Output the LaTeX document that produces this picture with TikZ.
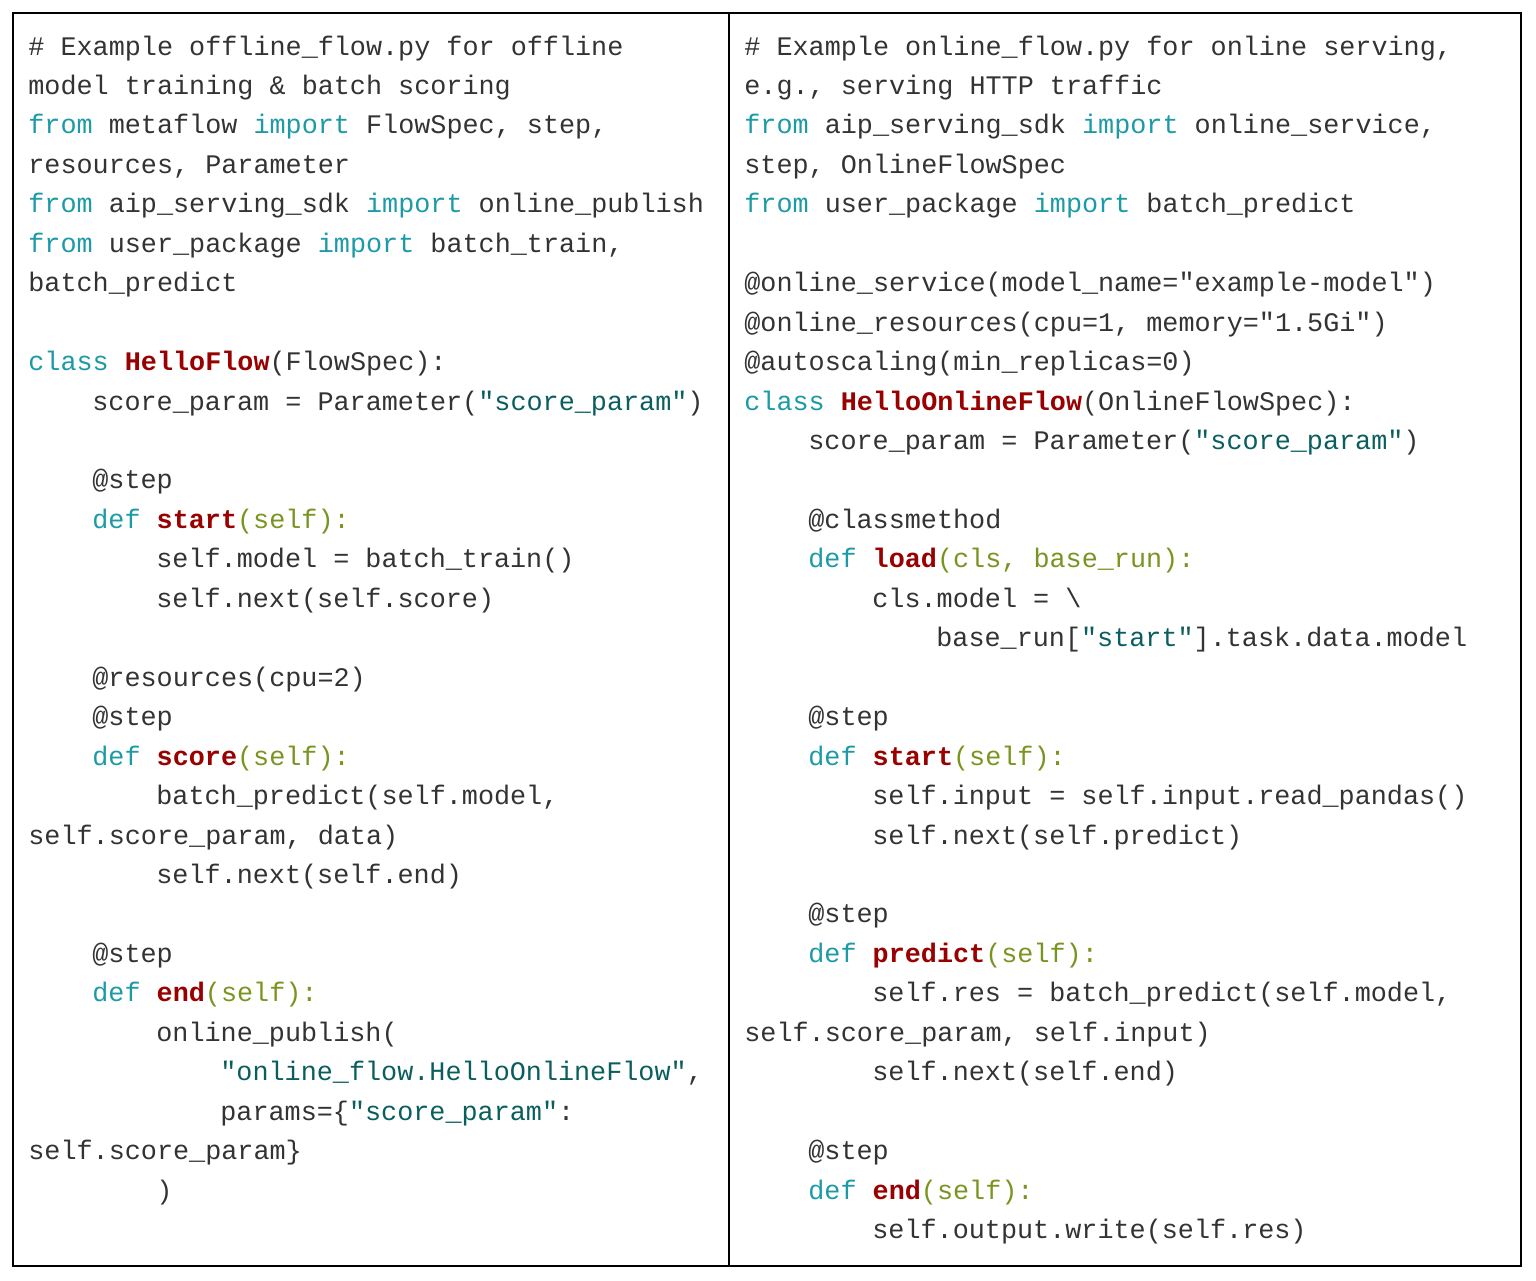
\documentclass[tikz,border=0pt]{standalone}
\usepackage{fontspec}
\newfontfamily\codefont{Liberation Mono}
\definecolor{kwcol}{HTML}{1C9AA6}
\definecolor{fncol}{HTML}{990000}
\definecolor{argcol}{HTML}{7A9420}
\definecolor{strcol}{HTML}{0B5E5E}
\definecolor{txtcol}{HTML}{333333}
\newcommand\kw[1]{\textcolor{kwcol}{#1}}
\newcommand\fn[1]{\textcolor{fncol}{\bfseries #1}}
\newcommand\ar[1]{\textcolor{argcol}{#1}}
\newcommand\st[1]{\textcolor{strcol}{#1}}
\tikzset{
  codeline/.style={anchor=base west, inner sep=0pt, text=txtcol,
    font=\codefont\fontsize{13.4pt}{16pt}\selectfont},
  panel/.style={draw=black, line width=1pt}
}
\begin{document}
\begin{tikzpicture}[x=0.5pt, y=-0.5pt]
  \useasboundingbox (0,0) rectangle (1536,1280);

  %Rahmen
  \draw[panel] (13,13) rectangle (1521,1266);
  \draw[panel] (729,13) -- (729,1266);

  %offline_flow.py
  \node[codeline] (l0) at (28,{55+39.45*0}) {\#~Example offline\_flow.py for offline};
  \node[codeline] (l1) at (28,{55+39.45*1}) {model training \& batch scoring};
  \node[codeline] (l2) at (28,{55+39.45*2}) {\kw{from} metaflow \kw{import} FlowSpec, step,};
  \node[codeline] (l3) at (28,{55+39.45*3}) {resources, Parameter};
  \node[codeline] (l4) at (28,{55+39.45*4}) {\kw{from} aip\_serving\_sdk \kw{import} online\_publish};
  \node[codeline] (l5) at (28,{55+39.45*5}) {\kw{from} user\_package \kw{import} batch\_train,};
  \node[codeline] (l6) at (28,{55+39.45*6}) {batch\_predict};
  \node[codeline] (l8) at (28,{55+39.45*8}) {\kw{class} \fn{HelloFlow}(FlowSpec):};
  \node[codeline] (l9) at (92,{55+39.45*9}) {score\_param = Parameter(\st{"score\_param"})};
  \node[codeline] (l11) at (92,{55+39.45*11}) {@step};
  \node[codeline] (l12) at (92,{55+39.45*12}) {\kw{def} \fn{start}\ar{(self):}};
  \node[codeline] (l13) at (156,{55+39.45*13}) {self.model = batch\_train()};
  \node[codeline] (l14) at (156,{55+39.45*14}) {self.next(self.score)};
  \node[codeline] (l16) at (92,{55+39.45*16}) {@resources(cpu=2)};
  \node[codeline] (l17) at (92,{55+39.45*17}) {@step};
  \node[codeline] (l18) at (92,{55+39.45*18}) {\kw{def} \fn{score}\ar{(self):}};
  \node[codeline] (l19) at (156,{55+39.45*19}) {batch\_predict(self.model,};
  \node[codeline] (l20) at (28,{55+39.45*20}) {self.score\_param, data)};
  \node[codeline] (l21) at (156,{55+39.45*21}) {self.next(self.end)};
  \node[codeline] (l23) at (92,{55+39.45*23}) {@step};
  \node[codeline] (l24) at (92,{55+39.45*24}) {\kw{def} \fn{end}\ar{(self):}};
  \node[codeline] (l25) at (156,{55+39.45*25}) {online\_publish(};
  \node[codeline] (l26) at (220,{55+39.45*26}) {\st{"online\_flow.HelloOnlineFlow"},};
  \node[codeline] (l27) at (220,{55+39.45*27}) {params=\{\st{"score\_param"}:};
  \node[codeline] (l28) at (28,{55+39.45*28}) {self.score\_param\}};
  \node[codeline] (l29) at (156,{55+39.45*29}) {)};

  %online_flow.py
  \node[codeline] (r0) at (744,{55+39.45*0}) {\#~Example online\_flow.py for online serving,};
  \node[codeline] (r1) at (744,{55+39.45*1}) {e.g., serving HTTP traffic};
  \node[codeline] (r2) at (744,{55+39.45*2}) {\kw{from} aip\_serving\_sdk \kw{import} online\_service,};
  \node[codeline] (r3) at (744,{55+39.45*3}) {step, OnlineFlowSpec};
  \node[codeline] (r4) at (744,{55+39.45*4}) {\kw{from} user\_package \kw{import} batch\_predict};
  \node[codeline] (r6) at (744,{55+39.45*6}) {@online\_service(model\_name="example-model")};
  \node[codeline] (r7) at (744,{55+39.45*7}) {@online\_resources(cpu=1, memory="1.5Gi")};
  \node[codeline] (r8) at (744,{55+39.45*8}) {@autoscaling(min\_replicas=0)};
  \node[codeline] (r9) at (744,{55+39.45*9}) {\kw{class} \fn{HelloOnlineFlow}(OnlineFlowSpec):};
  \node[codeline] (r10) at (808,{55+39.45*10}) {score\_param = Parameter(\st{"score\_param"})};
  \node[codeline] (r12) at (808,{55+39.45*12}) {@classmethod};
  \node[codeline] (r13) at (808,{55+39.45*13}) {\kw{def} \fn{load}\ar{(cls, base\_run):}};
  \node[codeline] (r14) at (872,{55+39.45*14}) {cls.model = \textbackslash};
  \node[codeline] (r15) at (936,{55+39.45*15}) {base\_run[\st{"start"}].task.data.model};
  \node[codeline] (r17) at (808,{55+39.45*17}) {@step};
  \node[codeline] (r18) at (808,{55+39.45*18}) {\kw{def} \fn{start}\ar{(self):}};
  \node[codeline] (r19) at (872,{55+39.45*19}) {self.input = self.input.read\_pandas()};
  \node[codeline] (r20) at (872,{55+39.45*20}) {self.next(self.predict)};
  \node[codeline] (r22) at (808,{55+39.45*22}) {@step};
  \node[codeline] (r23) at (808,{55+39.45*23}) {\kw{def} \fn{predict}\ar{(self):}};
  \node[codeline] (r24) at (872,{55+39.45*24}) {self.res = batch\_predict(self.model,};
  \node[codeline] (r25) at (744,{55+39.45*25}) {self.score\_param, self.input)};
  \node[codeline] (r26) at (872,{55+39.45*26}) {self.next(self.end)};
  \node[codeline] (r28) at (808,{55+39.45*28}) {@step};
  \node[codeline] (r29) at (808,{55+39.45*29}) {\kw{def} \fn{end}\ar{(self):}};
  \node[codeline] (r30) at (872,{55+39.45*30}) {self.output.write(self.res)};
\end{tikzpicture}
\end{document}
